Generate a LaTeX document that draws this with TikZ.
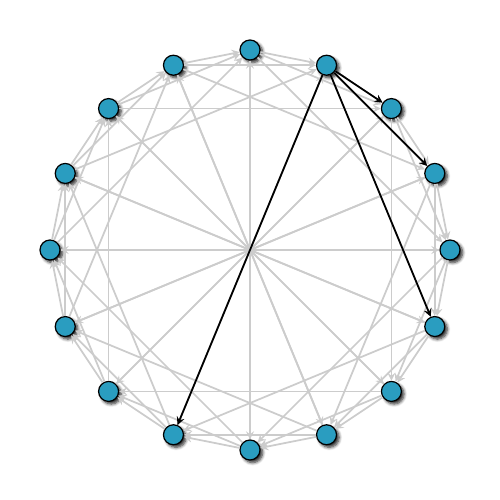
\documentclass[tikz,border=0pt]{standalone}
\usepackage{tikz}
\usetikzlibrary{shadows,shadows.blur}

\begin{document}
\begin{tikzpicture}[
		peer/.style={draw, circle, minimum size=0.4cm, inner sep=0pt, line width=0.7pt, fill={rgb,255:red,42;green,157;blue,192}, blur shadow={shadow xshift=1.5pt, shadow yshift=-1.5pt, shadow blur steps=6, shadow opacity=85}},
		finger/.style={->, >=stealth, line width=1pt, black!20},
		lookup/.style={->, >=stealth, line width=1pt, black}
	]
			\useasboundingbox (-5, -5) rectangle (5, 5);
			\draw (90:4) 	node[peer] 	(n0) 	{};
			\draw (67.5:4) 	node[peer] 	(n1) 	{};
			\draw (45:4) 	node[peer] 	(n2) 	{};
			\draw (22.5:4) 	node[peer] 	(n3) 	{};
			\draw (0:4) 	node[peer] 	(n4) 	{};
			\draw (-22.5:4) node[peer] 	(n5) 	{};
			\draw (-45:4) 	node[peer] 	(n6) 	{};
			\draw (-67.5:4) node[peer] 	(n7) 	{};
			\draw (-90:4) 	node[peer] 	(n8) 	{};
			\draw (-112.5:4) node[peer] (n9) 	{};
			\draw (-135:4) 	node[peer] 	(n10) 	{};
			\draw (-157.5:4) node[peer] (n11) 	{};
			\draw (180:4) 	node[peer] 	(n12) 	{};
			\draw (157.5:4) node[peer] 	(n13) 	{};
			\draw (135:4) 	node[peer] 	(n14) 	{};
			\draw (112.5:4) node[peer] 	(n15) 	{};

			% fingers of every peer: +1, +2, +4, +8
			\foreach \i in {0,...,15}
				\foreach \k in {1,2,4,8} {
					\pgfmathtruncatemacro\j{mod(\i+\k,16)}
					\draw[finger] (n\i) -- (n\j);
				}

			\draw[lookup] (n1) -- (n2);
			\draw[lookup] (n1) -- (n3);
			\draw[lookup] (n1) -- (n5);
			\draw[lookup] (n1) -- (n9);
		\end{tikzpicture}
\end{document}
